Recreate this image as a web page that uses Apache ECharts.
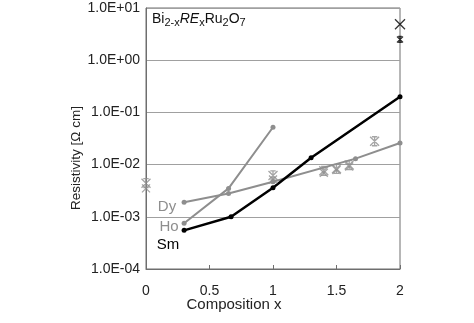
<!DOCTYPE html>
<html>
<head>
<meta charset="utf-8">
<script src="https://cdn.jsdelivr.net/npm/echarts@6/dist/echarts.min.js"></script>
<style>
  html, body { margin: 0; padding: 0; background: #fff; }
  #chart { width: 474px; height: 323px; }
</style>
</head>
<body>
<div id="chart"></div>
<script>
// Composition x and resistivity (Ω cm) for each rare-earth substitution
const smX = [0.3, 0.67, 1.0, 1.3, 2.0];
const smY = [5.5e-4, 1.0e-3, 3.6e-3, 1.35e-2, 0.2];
const hoX = [0.3, 0.65, 1.0];
const hoY = [7.5e-4, 3.5e-3, 5.2e-2];
const dyX = [0.3, 0.65, 1.0, 1.65, 2.0];
const dyY = [1.9e-3, 2.8e-3, 4.7e-3, 1.3e-2, 2.6e-2];

// Additional single measurements
const grayStarX = [0, 1.0, 1.4, 1.5, 1.6, 1.8];
const grayStarY = [4.4e-3, 6.2e-3, 7.6e-3, 8.3e-3, 9.8e-3, 2.8e-2];
const grayCrossX = [0, 1.0, 1.4, 1.5, 1.6];
const grayCrossY = [3.5e-3, 5.2e-3, 7.0e-3, 7.9e-3, 9.2e-3];
const blackCrossX = [2.0];
const blackCrossY = [4.9];
const blackStarX = [2.0];
const blackStarY = [2.5];

// Axis tick labels
const xTickLabels = { 0: '0', 0.5: '0.5', 1: '1', 1.5: '1.5', 2: '2' };
const yTickLabels = { '-4': '1.0E-04', '-3': '1.0E-03', '-2': '1.0E-02', '-1': '1.0E-01', '0': '1.0E+00', '1': '1.0E+01' };

const GRAY = '#8e8e8e';
const BLACK = '#000000';
const FONT = 'Liberation Sans, Arial, sans-serif';

const zip = (xs, ys) => xs.map((x, i) => [x, ys[i]]);

const crossPath = 'path://M0 0L10 10M10 0L0 10';
const starPath = 'path://M0 0L10 10M10 0L0 10M5 0L5 10M2 0L8 0M2 10L8 10';

function lineSeries(name, xs, ys, color, width) {
  return {
    name, type: 'line', data: zip(xs, ys),
    symbol: 'circle', symbolSize: 5,
    lineStyle: { color, width },
    itemStyle: { color },
    z: name === 'Sm' ? 5 : 4,
    animation: false
  };
}
function markSeries(name, xs, ys, color, path, size) {
  return {
    name, type: 'scatter', data: zip(xs, ys),
    symbol: path, symbolSize: size,
    itemStyle: { color: 'rgba(0,0,0,0)', borderColor: color, borderWidth: 1.3 },
    z: 6, animation: false
  };
}

const chart = echarts.init(document.getElementById('chart'));
chart.setOption({
  animation: false,
  grid: { left: 146, right: 74, top: 8, bottom: 54, show: true, borderColor: '#6e6e6e', borderWidth: 1 },
  xAxis: {
    type: 'value', min: 0, max: 2, interval: 0.5,
    axisLine: { lineStyle: { color: '#6e6e6e', width: 1 } },
    axisTick: { inside: true, length: 4, lineStyle: { color: '#6e6e6e' } },
    splitLine: { show: false },
    axisLabel: { color: '#222', fontSize: 14, fontFamily: FONT, margin: 15,
      formatter: v => xTickLabels[v] !== undefined ? xTickLabels[v] : '' }
  },
  yAxis: {
    type: 'log', logBase: 10, min: 1e-4, max: 10,
    axisLine: { show: true, lineStyle: { color: '#6e6e6e', width: 1 } },
    axisTick: { show: false },
    splitLine: { show: true, lineStyle: { color: '#a0a0a0', width: 1 } },
    axisLabel: { color: '#222', fontSize: 14, fontFamily: FONT, margin: 6,
      formatter: v => { const e = Math.round(Math.log10(v)); return yTickLabels[String(e)] || ''; } }
  },
  series: [
    lineSeries('Dy', dyX, dyY, GRAY, 2),
    lineSeries('Ho', hoX, hoY, GRAY, 2),
    lineSeries('Sm', smX, smY, BLACK, 2.5),
    markSeries('gray star', grayStarX, grayStarY, GRAY, starPath, 9),
    markSeries('gray cross', grayCrossX, grayCrossY, GRAY, crossPath, 8),
    markSeries('black cross', blackCrossX, blackCrossY, BLACK, crossPath, 10),
    markSeries('black star', blackStarX, blackStarY, BLACK, starPath, 6)
  ],
  graphic: [
    {
      type: 'text', left: 152, top: 9, z: 10,
      style: {
        text: '{n|Bi}{s|2-x}{i|RE}{s|x}{n|Ru}{s|2}{n|O}{s|7}',
        rich: {
          n: { fontSize: 14, fontFamily: FONT, fill: '#111', verticalAlign: 'top', lineHeight: 16 },
          i: { fontSize: 14, fontFamily: FONT, fontStyle: 'italic', fill: '#111', verticalAlign: 'top', lineHeight: 16 },
          s: { fontSize: 11, fontFamily: FONT, fill: '#111', verticalAlign: 'bottom', lineHeight: 12, padding: [8, 0, 0, 0] }
        }
      }
    },
    { type: 'text', x: 167, y: 207, z: 10,
      style: { text: 'Dy', fill: GRAY, font: '15px ' + FONT, align: 'center', verticalAlign: 'middle' } },
    { type: 'text', x: 169, y: 227, z: 10,
      style: { text: 'Ho', fill: GRAY, font: '15px ' + FONT, align: 'center', verticalAlign: 'middle' } },
    { type: 'text', x: 168, y: 245, z: 10,
      style: { text: 'Sm', fill: BLACK, font: '15px ' + FONT, align: 'center', verticalAlign: 'middle' } },
    { type: 'text', x: 234, y: 305, z: 10,
      style: { text: 'Composition x', fill: '#222', font: '15px ' + FONT, align: 'center', verticalAlign: 'middle' } },
    { type: 'text', x: 76, y: 158, rotation: Math.PI / 2, z: 10,
      style: { text: 'Resistivity [Ω cm]', fill: '#222', font: '13.5px ' + FONT, align: 'center', verticalAlign: 'middle' } }
  ]
});
</script>
</body>
</html>
